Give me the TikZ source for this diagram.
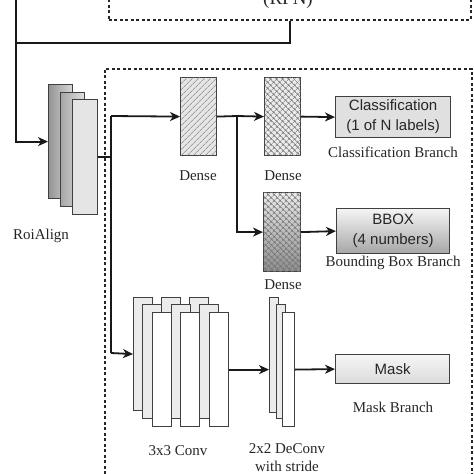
\documentclass[tikz,border=0pt]{standalone}
\usepackage{fontspec}
\setmainfont{Liberation Serif}
\setsansfont{Liberation Sans}
\usetikzlibrary{arrows.meta,patterns.meta}
\begin{document}
\begin{tikzpicture}[x=1pt,y=-1pt,
  box/.style={draw=black!75, line width=1.2pt, inner sep=0pt, anchor=north west},
  dbox/.style={draw=black!85, line width=1.6pt, dash pattern=on 3pt off 2.5pt, inner sep=0pt, anchor=north west},
  conn/.style={draw=black!90, line width=1.8pt},
  arr/.style={conn, -{Stealth[length=10pt,width=9pt,inset=3pt]}},
  lbl/.style={font=\fontsize{15}{18}\selectfont, text=black!85, inner sep=0pt, align=center},
  stxt/.style={font=\sffamily\fontsize{15}{20}\selectfont, text=black!85, align=center},
  hatchA/.style={postaction={pattern={Lines[angle=45,distance=4pt,line width=0.5pt]}, pattern color=black!55}},
  hatchB/.style={postaction={pattern={Hatch[angle=45,distance=4pt,line width=0.5pt]}, pattern color=black!55}},
  back/.style={box, fill=black!8},
  front/.style={box, fill=white},
]
\useasboundingbox (0,0) rectangle (474,474);
\clip (0,0) rectangle (474,474);

% RPN box (cut at top)
\node[dbox, minimum width=362pt, minimum height=80pt] (rpn) at (108,-61) {};
\node[font=\fontsize{19}{22}\selectfont, text=black!85, anchor=base] (rpnlbl) at (288,4) {(RPN)};

% head box
\node[dbox, minimum width=367pt, minimum height=420pt] (head) at (104,68) {};

% RoiAlign
\node[box, minimum width=24pt, minimum height=114pt, left color=black!42, right color=black!15] (roi1) at (48,84) {};
\node[box, minimum width=24pt, minimum height=114pt, left color=black!35, right color=black!12] (roi2) at (60,92) {};
\node[box, minimum width=25pt, minimum height=115pt, fill=black!10] (roi3) at (72,99) {};
\node[lbl] (roilbl) at (41,236) {RoiAlign};

% connectors from RPN
\coordinate (top) at (16,-5);
\coordinate (jt) at (16,43);
\draw[conn] (rpn.south) |- (jt);
\draw[arr] (top) |- (roi1.west);

% Dense layers
\node[box, minimum width=36pt, minimum height=78pt, fill=black!10, hatchA] (d1) at (180,77) {};
\node[box, minimum width=36pt, minimum height=78pt, fill=black!8, hatchB] (d2) at (264,77) {};
\node[box, minimum width=37pt, minimum height=79pt, top color=black!8, bottom color=black!45, hatchB] (d3) at (263,192) {};
\node[lbl] (d1lbl) at (198,176) {Dense};
\node[lbl] (d2lbl) at (283,176) {Dense};
\node[lbl] (d3lbl) at (283,285) {Dense};

% outputs
\node[box, minimum width=115pt, minimum height=41pt, fill=black!12, stxt, inner sep=0pt] (cls) at (335,96) {Classification\\(1 of N labels)};
\node[lbl] (clslbl) at (393,152) {Classification Branch};
\node[box, minimum width=113pt, minimum height=45pt, top color=black!4, bottom color=black!35, stxt, inner sep=0pt] (bbox) at (336,208) {BBOX\\(4 numbers)};
\node[lbl] (bboxlbl) at (393,263) {Bounding Box Branch};
\node[box, minimum width=114pt, minimum height=29pt, top color=black!4, bottom color=black!14, stxt, inner sep=0pt] (mask) at (335,354) {Mask};
\node[lbl] (masklbl) at (393,407) {Mask Branch};

% Conv stacks
\node[back, minimum width=19pt, minimum height=113pt] (cb1) at (133,297) {};
\node[back, minimum width=19pt, minimum height=113pt] (cb2) at (161,297) {};
\node[back, minimum width=19pt, minimum height=113pt] (cb3) at (189,297) {};
\node[back, minimum width=19pt, minimum height=114pt] (cm1) at (142,304) {};
\node[back, minimum width=19pt, minimum height=114pt] (cm2) at (171,304) {};
\node[back, minimum width=19pt, minimum height=114pt] (cm3) at (199,304) {};
\node[front, minimum width=19pt, minimum height=114pt] (cf1) at (152,312) {};
\node[front, minimum width=19pt, minimum height=114pt] (cf2) at (180,312) {};
\node[front, minimum width=19pt, minimum height=114pt] (cf3) at (209,312) {};
\node[lbl] (convlbl) at (178,451) {3x3 Conv};

% DeConv stack
\node[back, minimum width=9pt, minimum height=115pt] (dc1) at (269,297) {};
\node[back, minimum width=9pt, minimum height=114pt] (dc2) at (276,304) {};
\node[front, minimum width=12pt, minimum height=114pt] (dc3) at (282,312) {};
\node[lbl] (dclbl) at (287,458) {2x2 DeConv\\with stride};

% head connectors
\coordinate (ja) at (111,116);
\coordinate (jb) at (111,353);
\coordinate (jd) at (237,116);
\draw[conn] (roi3.east) -- (roi3.east -| ja);
\draw[conn] (ja) -- (jb);
\draw[arr] (ja) -- (d1.west);
\draw[arr] (jb) -- (cb1.west);
\draw[conn] (d1.east) -- (jd);
\draw[arr] (jd) -- (d2.west);
\draw[arr] (jd) |- (d3.west);
\draw[arr] (d2.east) -- (cls.west);
\draw[arr] (d3.east) -- (bbox.west);
\draw[arr] (cf3.east) -- (cf3.east -| dc1.west);
\draw[arr] (dc3.east) -- (mask.west);
\end{tikzpicture}
\end{document}
